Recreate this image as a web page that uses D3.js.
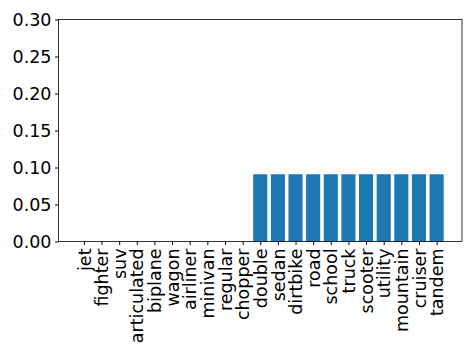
<!DOCTYPE html>
<html>
<head>
<meta charset="utf-8">
<script src="https://cdn.jsdelivr.net/npm/d3@7"></script>
<style>
  body { margin: 0; background: #fff; }
  .axis text { font-family: "DejaVu Sans", sans-serif; font-size: 17.5px; fill: #000; }
  .axis path, .axis line { stroke: #000; }
</style>
</head>
<body>
<div id="chart"></div>
<script>
const categories = ["jet", "fighter", "suv", "articulated", "biplane", "wagon", "airliner",
  "minivan", "regular", "chopper", "double", "sedan", "dirtbike", "road", "school",
  "truck", "scooter", "utility", "mountain", "cruiser", "tandem"];
const values = [0, 0, 0, 0, 0, 0, 0, 0, 0, 0,
  0.0909, 0.0909, 0.0909, 0.0909, 0.0909, 0.0909, 0.0909, 0.0909, 0.0909, 0.0909, 0.0909];
const yTicks = [0, 0.05, 0.10, 0.15, 0.20, 0.25, 0.30];

const w = 474, h = 356;
const padL = 58.5, padR = 462, padT = 19.5, padB = 241.5;
const n = categories.length;
const barW = 0.8;
const marg = 0.05 * (n - 1 + barW);

const svg = d3.select("#chart").append("svg")
  .attr("width", w).attr("height", h);

const xScale = d3.scaleLinear()
  .domain([-barW / 2 - marg, n - 1 + barW / 2 + marg])
  .range([padL, padR]);
const yScale = d3.scaleLinear()
  .domain([0, 0.30])
  .range([padB, padT]);

// bars
svg.append("g").selectAll("rect")
  .data(values)
  .enter().append("rect")
  .attr("x", (d, i) => xScale(i - barW / 2))
  .attr("width", xScale(barW) - xScale(0))
  .attr("y", d => yScale(d))
  .attr("height", d => yScale(0) - yScale(d))
  .attr("fill", "#1f77b4");

// axes
const xAxis = d3.axisBottom(xScale)
  .tickValues(d3.range(n))
  .tickFormat(i => categories[i])
  .tickSize(3.5).tickSizeOuter(0);
const yAxis = d3.axisLeft(yScale)
  .tickValues(yTicks)
  .tickFormat(d3.format(".2f"))
  .tickSize(3.5).tickSizeOuter(0);

const gx = svg.append("g").attr("class", "axis")
  .attr("transform", "translate(0," + padB + ")")
  .call(xAxis);
gx.select(".domain").remove();
gx.selectAll("text")
  .attr("transform", "rotate(-90)")
  .attr("text-anchor", "end")
  .attr("x", -7)
  .attr("y", 0)
  .attr("dy", "0.35em");

const gy = svg.append("g").attr("class", "axis")
  .attr("transform", "translate(" + padL + ",0)")
  .call(yAxis);
gy.select(".domain").remove();
gy.selectAll("text").attr("x", -7);

// frame
svg.append("rect")
  .attr("x", padL).attr("y", padT)
  .attr("width", padR - padL).attr("height", padB - padT)
  .attr("fill", "none").attr("stroke", "#000").attr("stroke-width", 0.8);
</script>
</body>
</html>
